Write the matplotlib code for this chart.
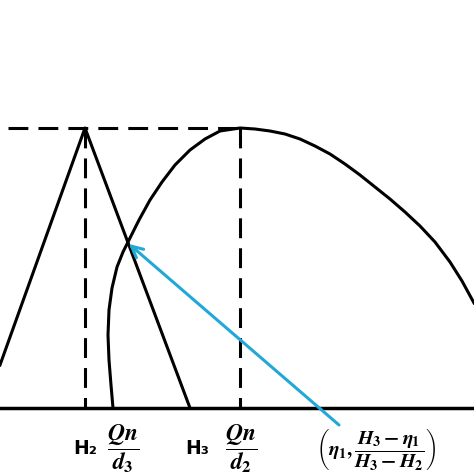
import matplotlib
matplotlib.use("Agg")
import matplotlib.pyplot as plt

plt.rcParams['mathtext.fontset'] = 'custom'
plt.rcParams['mathtext.it'] = 'STIXGeneral:italic:bold'
plt.rcParams['mathtext.rm'] = 'STIXGeneral:bold'
plt.rcParams['mathtext.bf'] = 'STIXGeneral:bold'

# geometry (pixel-like coords, y grows downward)
base_y = 408
peak = (85, 128)
tri_left = (0, 365)
tri_right = (190, 408)
curve_x = [113, 111, 109, 108, 109, 112, 117, 123, 130, 139, 150, 162, 175, 190, 205,
           220, 240, 255, 270, 285, 300, 315, 330, 345, 360, 375, 390, 405, 420,
           435, 450, 462, 474]
curve_y = [408, 385, 360, 335, 310, 288, 267, 252, 238, 220, 200, 182, 165, 150, 139,
           131, 128, 129, 131, 134, 139, 146, 154, 164, 175, 187, 199, 212, 226,
           242, 262, 281, 303]
curve_top_x = 240
dash_left_x = 8
arrow_tip = (129, 244)
arrow_tail = (339, 425)

labels = ["H₂", r"$\dfrac{Qn}{d_3}$", "H₃", r"$\dfrac{Qn}{d_2}$",
          r"$\left(\eta_1,\dfrac{H_3-\eta_1}{H_3-H_2}\right)$"]
label_x = [85, 123, 197, 241, 376]
label_size = [13.5, 17, 13.5, 17, 14.5]
label_y = 449

fig = plt.figure(figsize=(4.74, 4.74), dpi=100)
ax = fig.add_axes([0, 0, 1, 1])
ax.set_xlim(0, 474)
ax.set_ylim(474, 0)
ax.axis('off')

lw = 2.2
dash = (0, (6.5, 3.3))

ax.plot([0, 474], [base_y, base_y], color='black', lw=lw + 0.3)
ax.plot([tri_left[0], peak[0], tri_right[0]], [tri_left[1], peak[1], tri_right[1]],
        color='black', lw=lw)
ax.plot(curve_x, curve_y, color='black', lw=lw, solid_joinstyle='round')
ax.plot([dash_left_x, curve_top_x], [peak[1], peak[1]], color='black', lw=lw, linestyle=dash)
ax.plot([peak[0], peak[0]], [peak[1], base_y], color='black', lw=lw, linestyle=dash)
ax.plot([curve_top_x, curve_top_x], [peak[1], base_y], color='black', lw=lw, linestyle=dash)

ax.annotate('', xy=arrow_tip, xytext=arrow_tail,
            arrowprops=dict(arrowstyle='->', color='#22a8d8', lw=2.2,
                            mutation_scale=20, shrinkA=0, shrinkB=0))

for t, x, s in zip(labels, label_x, label_size):
    if t.startswith('$'):
        ax.text(x, label_y, t, ha='center', va='center', fontsize=s)
    else:
        ax.text(x, label_y, t, ha='center', va='center', fontsize=s,
                family='DejaVu Sans', fontweight='bold')

fig.savefig('out.png', dpi=100)
